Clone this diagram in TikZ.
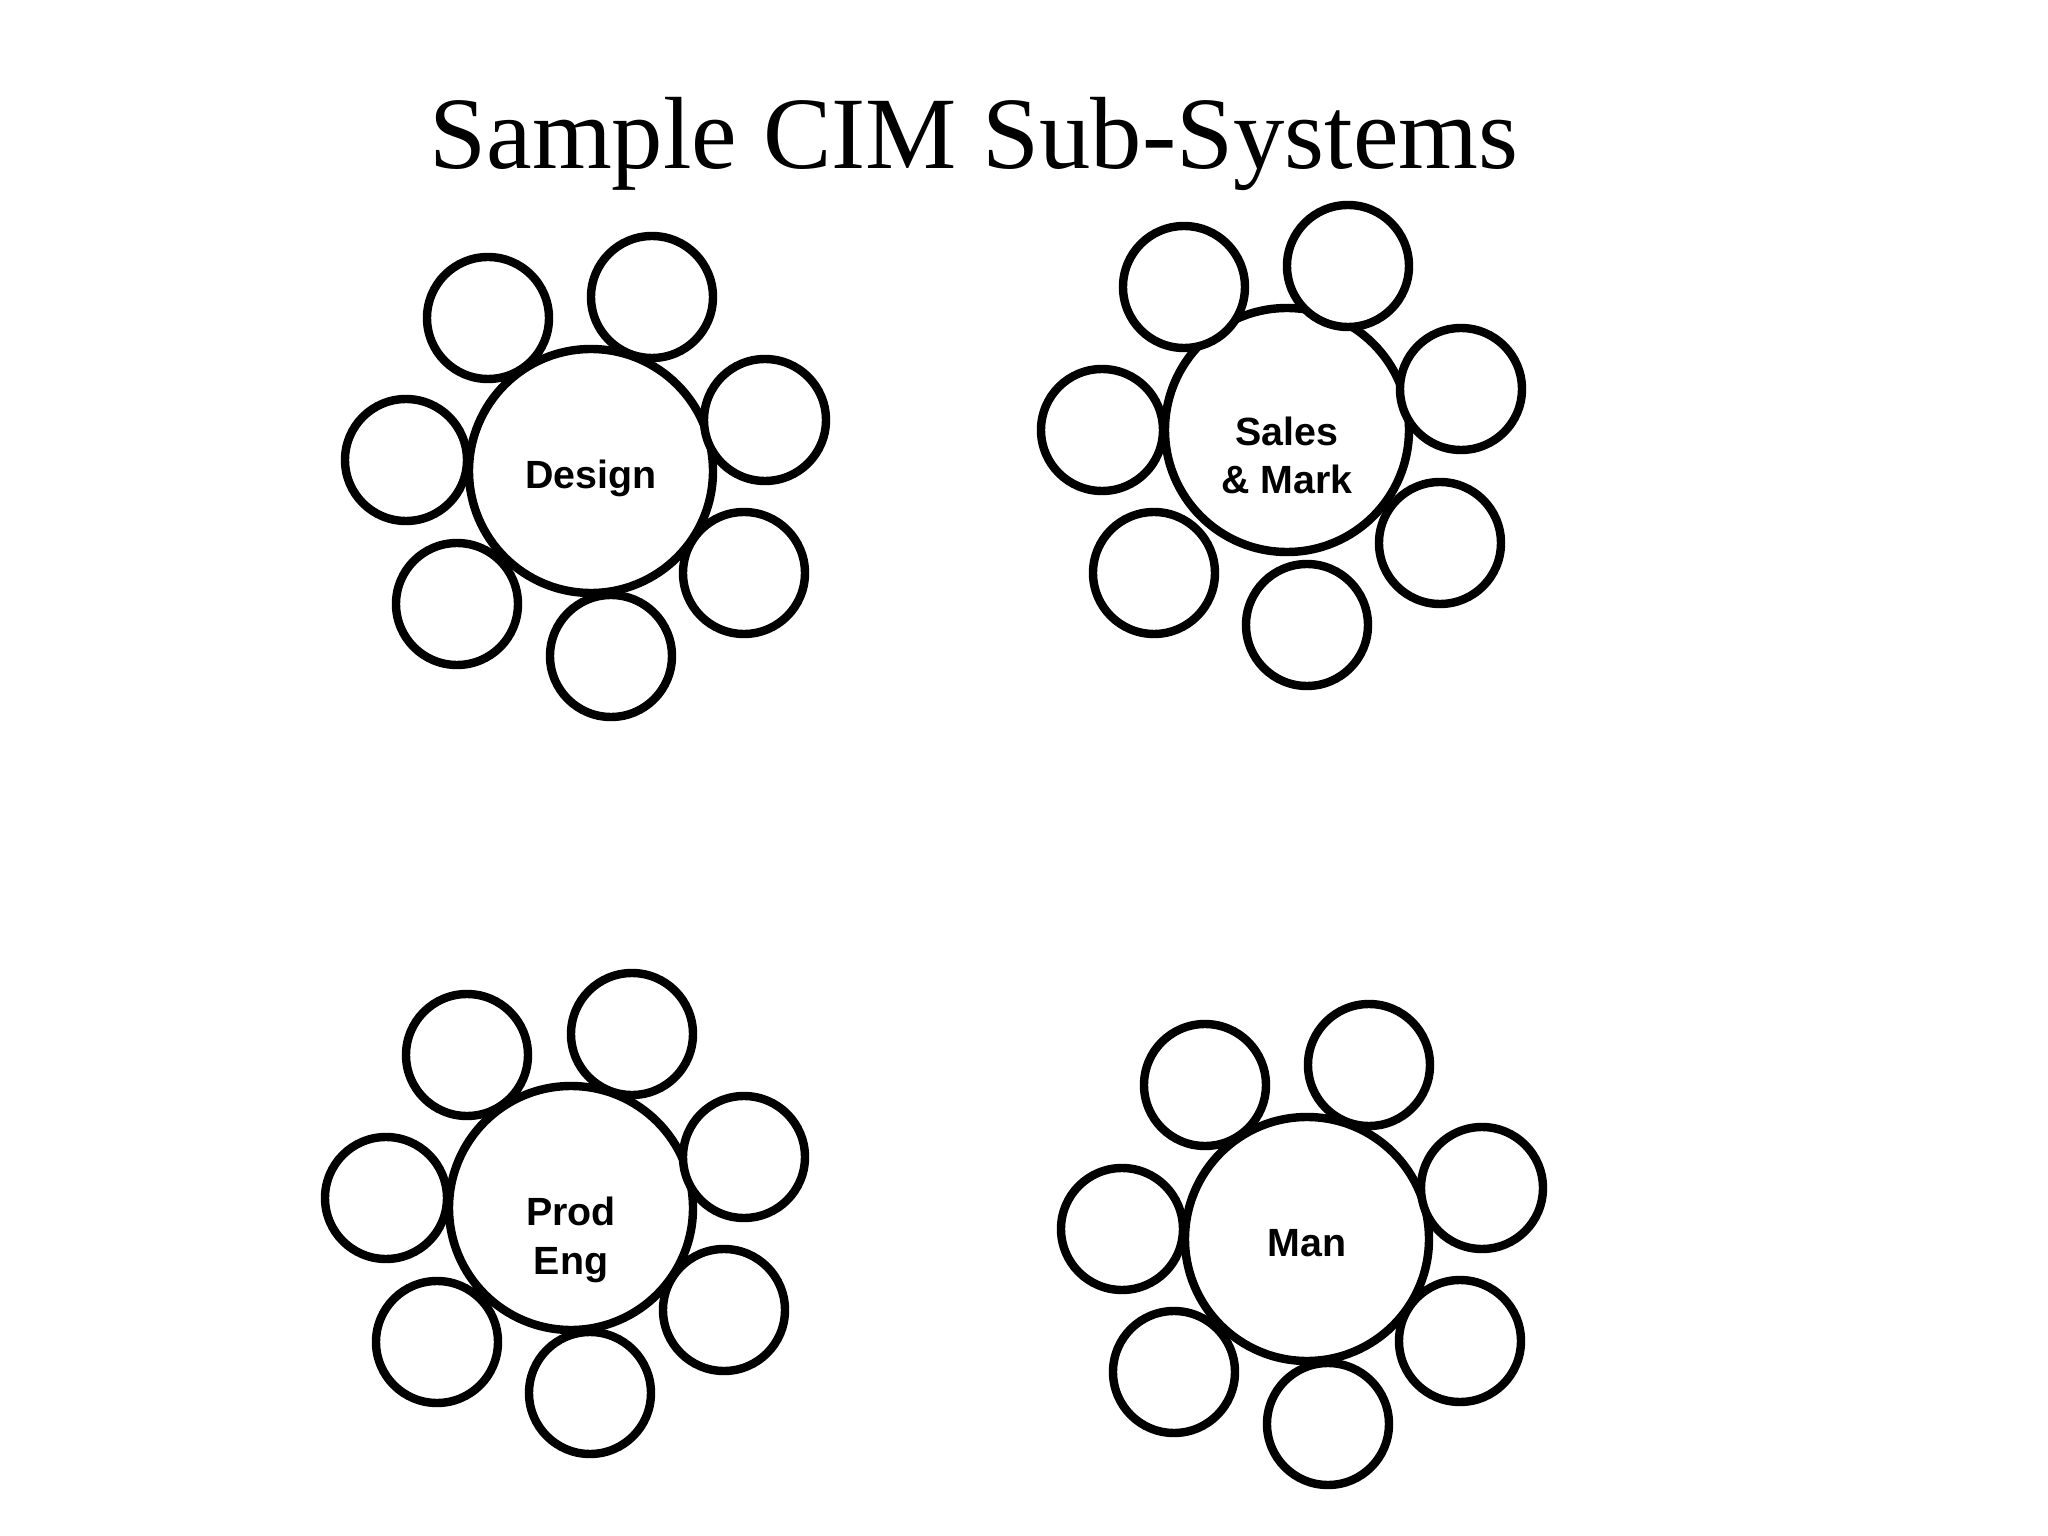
\documentclass[tikz,border=0pt]{standalone}
\usepackage{fontspec}
\setmainfont{Liberation Serif}
\setsansfont{Liberation Sans}

\begin{document}
\begin{tikzpicture}[
    hub/.style={circle, draw, line width=2.4pt, fill=white,
                minimum size=24.4mm, inner sep=0pt},
    sat/.style={circle, draw, line width=2.4pt, fill=white,
                minimum size=12.2mm, inner sep=0pt},
    hublabel/.style={anchor=base, align=center,
                font=\sffamily\bfseries\fontsize{11.2}{13.7}\selectfont},
    heading/.style={anchor=base, font=\fontsize{29.2}{35}\selectfont}
]
  \useasboundingbox (0, 0) rectangle (20.48, -15.36);

  \node[heading] (title) at (9.74, -1.69) {Sample CIM Sub-Systems};

  % Design
  \node[hub] (design) at (5.91, -4.71) {};
  \node[sat] (design1) at (4.88, -3.18) {};
  \node[sat] (design2) at (6.52, -2.97) {};
  \node[sat] (design3) at (7.65, -4.20) {};
  \node[sat] (design4) at (7.44, -5.73) {};
  \node[sat] (design5) at (6.11, -6.56) {};
  \node[sat] (design6) at (4.57, -6.04) {};
  \node[sat] (design7) at (4.06, -4.60) {};
  \node[hublabel] (designtext) at ([yshift=-1.7mm]design.center) {Design};

  % Sales & Mark
  \node[hub] (sales) at (12.87, -4.30) {};
  \node[sat] (sales1) at (11.84, -2.87) {};
  \node[sat] (sales2) at (13.48, -2.66) {};
  \node[sat] (sales3) at (14.61, -3.89) {};
  \node[sat] (sales4) at (14.40, -5.43) {};
  \node[sat] (sales5) at (13.07, -6.25) {};
  \node[sat] (sales6) at (11.54, -5.73) {};
  \node[sat] (sales7) at (11.02, -4.30) {};
  \node[hublabel] (salestext) at ([yshift=-6.4mm]sales.center) {Sales\\\& Mark};

  % Prod Eng
  \node[hub] (prod) at (5.71, -12.08) {};
  \node[sat] (prod1) at (4.67, -10.55) {};
  \node[sat] (prod2) at (6.32, -10.34) {};
  \node[sat] (prod3) at (7.44, -11.57) {};
  \node[sat] (prod4) at (7.24, -13.10) {};
  \node[sat] (prod5) at (5.90, -13.93) {};
  \node[sat] (prod6) at (4.37, -13.42) {};
  \node[sat] (prod7) at (3.86, -11.98) {};
  \node[hublabel] (prodtext) at ([yshift=-6.6mm]prod.center) {Prod\\Eng};

  % Man
  \node[hub] (man) at (13.07, -12.39) {};
  \node[sat] (man1) at (12.05, -10.85) {};
  \node[sat] (man2) at (13.69, -10.65) {};
  \node[sat] (man3) at (14.82, -11.88) {};
  \node[sat] (man4) at (14.60, -13.41) {};
  \node[sat] (man5) at (13.28, -14.24) {};
  \node[sat] (man6) at (11.74, -13.72) {};
  \node[sat] (man7) at (11.22, -12.29) {};
  \node[hublabel] (mantext) at ([yshift=-1.7mm]man.center) {Man};
\end{tikzpicture}
\end{document}
